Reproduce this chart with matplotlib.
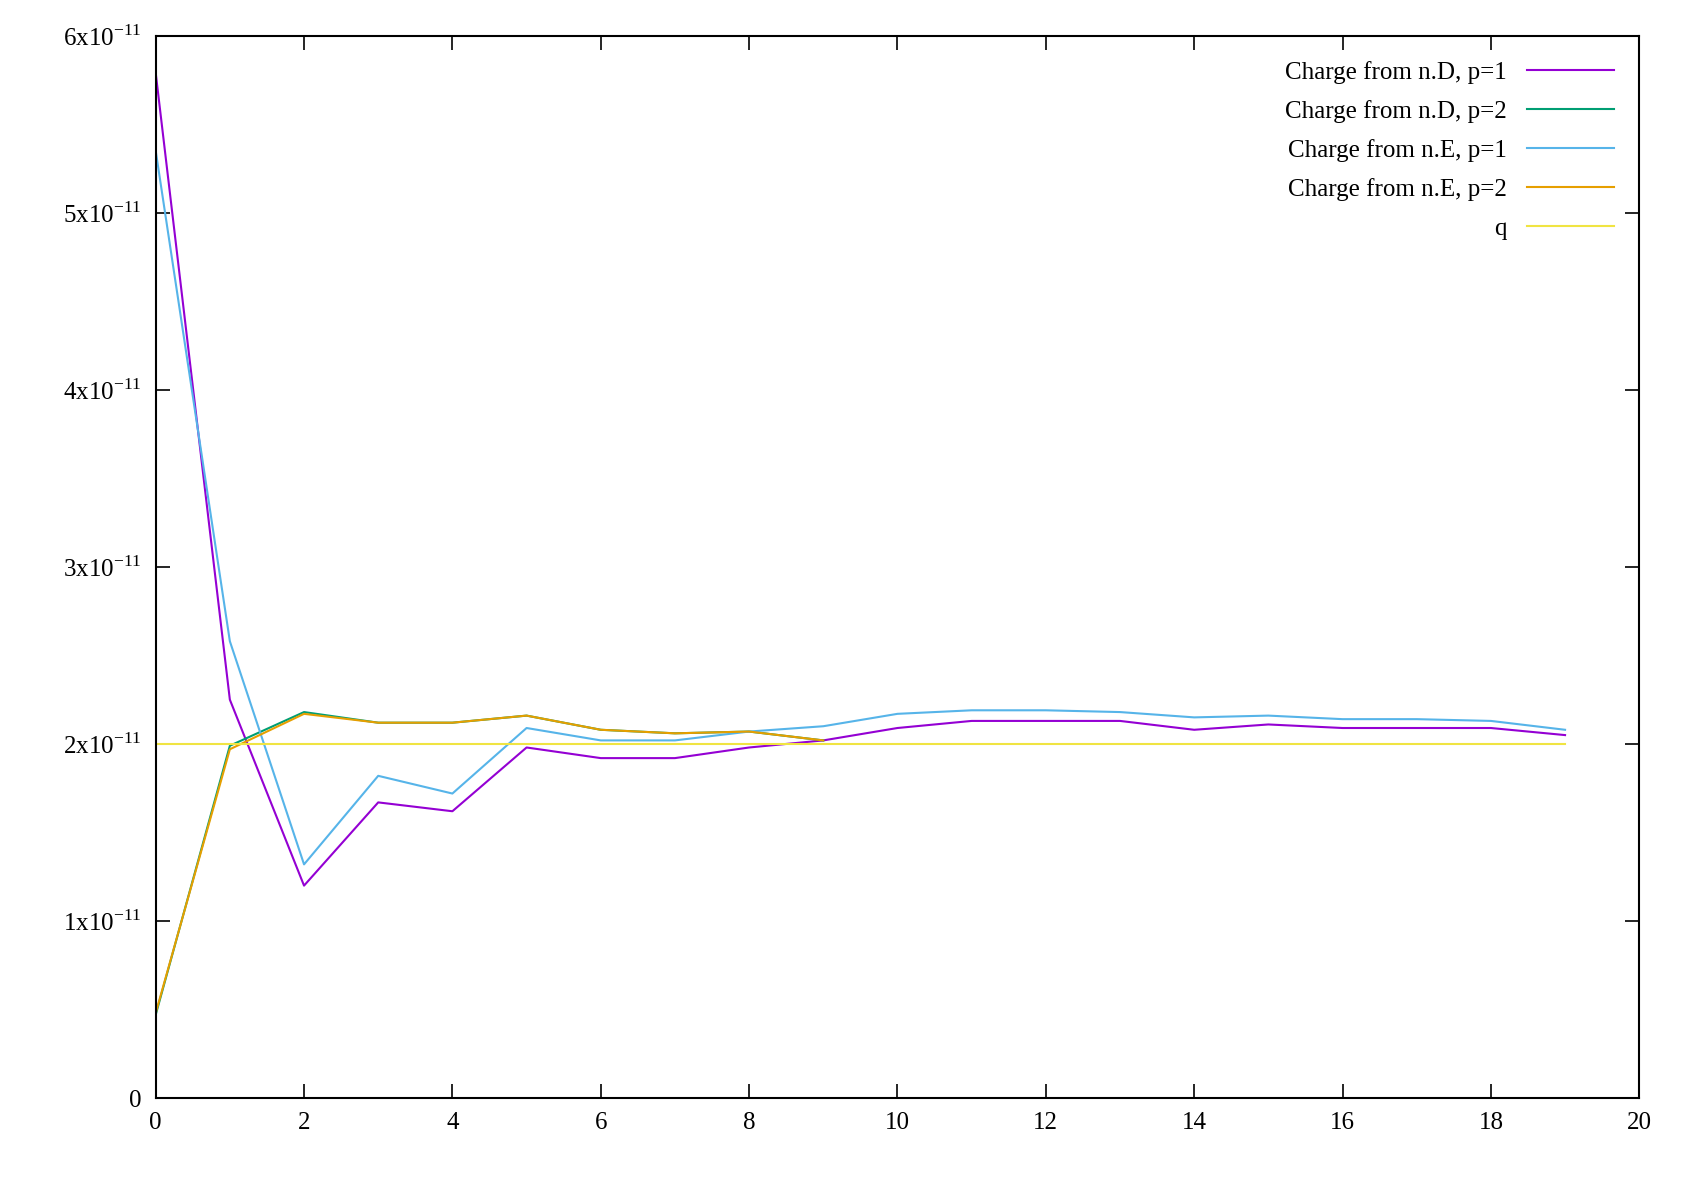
import matplotlib
matplotlib.use("Agg")
import matplotlib.pyplot as plt
from matplotlib.ticker import FixedLocator, FuncFormatter

plt.rcParams['font.family'] = ['Liberation Serif', 'DejaVu Serif']
plt.rcParams['mathtext.fontset'] = 'custom'
plt.rcParams['mathtext.rm'] = 'Liberation Serif'

x_full = list(range(20))
x_short = list(range(10))
nD_p1 = [5.79, 2.25, 1.20, 1.67, 1.62, 1.98, 1.92, 1.92, 1.98, 2.02, 2.09, 2.13, 2.13, 2.13, 2.08, 2.11, 2.09, 2.09, 2.09, 2.05]
nD_p2 = [0.47, 1.99, 2.18, 2.12, 2.12, 2.16, 2.08, 2.06, 2.07, 2.02]
nE_p1 = [5.35, 2.58, 1.32, 1.82, 1.72, 2.09, 2.02, 2.02, 2.07, 2.10, 2.17, 2.19, 2.19, 2.18, 2.15, 2.16, 2.14, 2.14, 2.13, 2.08]
nE_p2 = [0.48, 1.97, 2.17, 2.12, 2.12, 2.16, 2.08, 2.06, 2.07, 2.02]
q_val = 2.0
scale = 1e-11

fig = plt.figure(figsize=(16.83, 11.84), dpi=100)
ax = fig.add_axes([0.0925, 0.0725, 0.8815, 0.8975])
lw = 1.5
ax.plot(x_full, [v*scale for v in nD_p1], color='#9400d3', lw=lw, label='Charge from n.D, p=1')
ax.plot(x_short, [v*scale for v in nD_p2], color='#009e73', lw=lw, label='Charge from n.D, p=2')
ax.plot(x_full, [v*scale for v in nE_p1], color='#56b4e9', lw=lw, label='Charge from n.E, p=1')
ax.plot(x_short, [v*scale for v in nE_p2], color='#e69f00', lw=lw, label='Charge from n.E, p=2')
ax.plot(x_full, [q_val*scale]*len(x_full), color='#f0e442', lw=lw, label='q')

ax.set_xlim(0, 20)
ax.set_ylim(0, 6e-11)
ax.xaxis.set_major_locator(FixedLocator(range(0, 21, 2)))
ax.yaxis.set_major_locator(FixedLocator([i*1e-11 for i in range(7)]))
def fy(v, p):
    n = round(v/1e-11)
    return '0' if n == 0 else r'%dx10$^{-11}$' % n
ax.yaxis.set_major_formatter(FuncFormatter(fy))
ax.tick_params(direction='in', length=10, width=1.2, top=True, right=True, labelsize=18, pad=10)
for s in ax.spines.values():
    s.set_linewidth(1.5)
ax.legend(loc='upper right', frameon=False, markerfirst=False, fontsize=18, handlelength=3.5,
          labelspacing=0.65, borderaxespad=0.6)
fig.savefig('out.png', dpi=100)
